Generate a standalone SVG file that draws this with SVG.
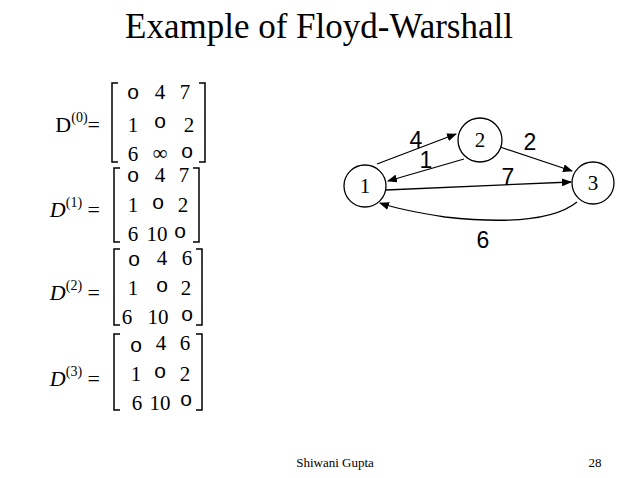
<svg xmlns="http://www.w3.org/2000/svg" width="638" height="478" viewBox="0 0 638 478">
<style>
.t{font-family:"Liberation Serif",serif;fill:#000}
.m{font-family:"Liberation Serif",serif;font-size:21px;text-anchor:middle}
.z{font-family:"Liberation Sans",sans-serif;font-size:21px;text-anchor:middle}
.b{fill:none;stroke:#000;stroke-width:1.5}
.e{fill:none;stroke:#000;stroke-width:1.3}
.n{fill:#fff;stroke:#000;stroke-width:1.3}
.l{font-family:"Liberation Sans",sans-serif;font-size:23px;text-anchor:middle}
</style>
<defs><marker id="a" markerWidth="10" markerHeight="8" refX="9" refY="4" orient="auto" markerUnits="userSpaceOnUse"><path d="M0,0L10,4L0,8z"/></marker></defs>
<rect width="638" height="478" fill="#fff"/>
<text x="319" y="38" class="t" font-size="35" text-anchor="middle">Example of Floyd-Warshall</text>
<g id="m0">
<text x="100" y="132" class="t" font-size="22" text-anchor="end">D<tspan font-size="14" dy="-10">(0)</tspan><tspan dy="10">=</tspan></text>
<path class="b" d="M118,83H112V162H118M199,83H205V162H199"/>
<text x="133" y="99" class="z">o</text><text x="160" y="99" class="m">4</text><text x="185" y="99" class="m">7</text>
<text x="133" y="132" class="m">1</text><text x="160" y="128" class="z">o</text><text x="189" y="132" class="m">2</text>
<text x="133" y="161" class="m">6</text><text x="160" y="160" class="m">∞</text><text x="187" y="158" class="z">o</text>
</g>
<g id="m1">
<text x="100" y="217" class="t" font-size="22" text-anchor="end"><tspan font-style="italic">D</tspan><tspan font-size="14" dy="-10">(1)</tspan><tspan dy="10"> =</tspan></text>
<path class="b" d="M120,168H114V242H120M193,168H199V242H193"/>
<text x="133" y="182" class="z">o</text><text x="160" y="182" class="m">4</text><text x="184" y="182" class="m">7</text>
<text x="133" y="212" class="m">1</text><text x="158" y="209" class="z" font-size="18">o</text><text x="183" y="212" class="m">2</text>
<text x="133" y="241" class="m">6</text><text x="157" y="241" class="m">10</text><text x="180" y="238" class="z" font-size="18">o</text>
</g>
<g id="m2">
<text x="100" y="300" class="t" font-size="22" text-anchor="end"><tspan font-style="italic">D</tspan><tspan font-size="14" dy="-10">(2)</tspan><tspan dy="10"> =</tspan></text>
<path class="b" d="M120,249H114V325H120M196,249H202V325H196"/>
<text x="134" y="266" class="z">o</text><text x="162" y="265" class="m">4</text><text x="187" y="265" class="m">6</text>
<text x="133" y="295" class="m">1</text><text x="162" y="292" class="z" font-size="18">o</text><text x="186" y="295" class="m">2</text>
<text x="127" y="324" class="m">6</text><text x="158" y="324" class="m">10</text><text x="187" y="321" class="z" font-size="18">o</text>
</g>
<g id="m3">
<text x="100" y="386" class="t" font-size="22" text-anchor="end"><tspan font-style="italic">D</tspan><tspan font-size="14" dy="-10">(3)</tspan><tspan dy="10"> =</tspan></text>
<path class="b" d="M120,334H114V410H120M196,334H202V410H196"/>
<text x="136" y="352" class="z">o</text><text x="161" y="350" class="m">4</text><text x="185" y="350" class="m">6</text>
<text x="136" y="381" class="m">1</text><text x="160" y="378" class="z">o</text><text x="185" y="381" class="m">2</text>
<text x="137" y="410" class="m">6</text><text x="160" y="410" class="m">10</text><text x="186" y="406" class="z" font-size="18">o</text>
</g>
<g id="edges">
<path class="e" marker-end="url(#a)" d="M377,164L456,134"/>
<path class="e" marker-end="url(#a)" d="M464,159L388,181"/>
<path class="e" marker-end="url(#a)" d="M500,147L572,171"/>
<path class="e" marker-end="url(#a)" d="M386,190L571,182"/>
<path class="e" marker-end="url(#a)" d="M577,202Q545,228 445,217Q400,210 380,203"/>
<text x="416" y="148" class="l">4</text>
<text x="426" y="168" class="l">1</text>
<text x="530" y="150" class="l">2</text>
<text x="508" y="185" class="l">7</text>
<text x="483" y="248" class="l">6</text>
</g>
<g id="n1"><circle class="n" cx="365" cy="186" r="21"/><text x="365" y="193" class="m">1</text></g>
<g id="n2"><circle class="n" cx="480" cy="140" r="22"/><text x="480" y="147" class="m">2</text></g>
<g id="n3"><circle class="n" cx="593" cy="183" r="21"/><text x="593" y="190" class="m">3</text></g>
<text x="335" y="467" class="t" font-size="13" text-anchor="middle">Shiwani Gupta</text>
<text x="595" y="467" class="t" font-size="13" text-anchor="middle">28</text>
</svg>
